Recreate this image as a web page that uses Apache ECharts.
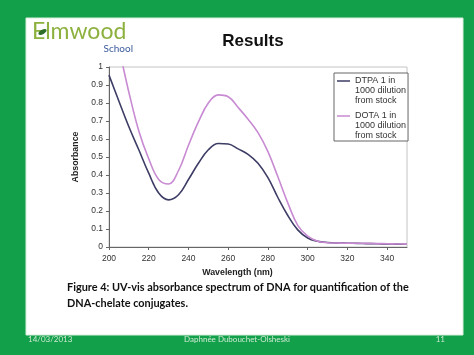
<!DOCTYPE html>
<html>
<head>
<meta charset="utf-8">
<script src="https://cdn.jsdelivr.net/npm/echarts@6/dist/echarts.min.js"></script>
<style>
html,body{margin:0;padding:0;background:#fff;}
#chart{width:474px;height:355px;}
</style>
</head>
<body>
<div id="chart"></div>
<script>
// ---- data ----
const wavelengths = [200,205,210,215,220,225,230,235,240,245,250,255,260,265,270,275,280,285,290,295,300,305,310,315,320,325,330,335,340,345,350];
const dtpaValues = [0.955,0.81,0.668,0.54,0.41,0.30,0.262,0.29,0.375,0.465,0.54,0.575,0.572,0.545,0.515,0.465,0.385,0.275,0.175,0.095,0.05,0.032,0.025,0.022,0.021,0.02,0.019,0.018,0.017,0.016,0.015];
const dotaValues = [1.3,1.1,0.86,0.645,0.49,0.375,0.35,0.425,0.565,0.695,0.80,0.845,0.835,0.775,0.71,0.635,0.53,0.39,0.245,0.12,0.06,0.032,0.024,0.022,0.021,0.021,0.02,0.019,0.018,0.017,0.016];
const seriesNames = ["DTPA 1 in\n1000 dilution\nfrom stock", "DOTA 1 in\n1000 dilution\nfrom stock"];
const xTicks = {min: 200, max: 350, step: 20};
const yTicks = {min: 0, max: 1, step: 0.1};
const slideTitle = "Results";
const captionText = "Figure 4: UV-vis absorbance spectrum of DNA for quantification of the\nDNA-chelate conjugates.";
const footerDate = "14/03/2013";
const footerAuthor = "Daphnée Dubouchet-Olsheski";
const footerPage = "11";
const xAxisName = "Wavelength (nm)";
const yAxisName = "Absorbance";

const pair = (vals) => wavelengths.map((w, i) => [w, vals[i]]);
const GREEN = '#12a04a';
const iconPath = 'path://M12.9,0 H13 V0.1 H12.9 Z M0,4.2 H13 V5.8 H0 Z M12.9,29.9 H13 V30 H12.9 Z';

const chart = echarts.init(document.getElementById('chart'), null, {renderer: 'canvas'});
chart.setOption({
  animation: false,
  backgroundColor: GREEN,
  textStyle: {fontFamily: 'Liberation Sans'},
  grid: {left: 109, top: 67, right: 67, bottom: 108, show: true, borderColor: '#c4c4c4', borderWidth: 1, backgroundColor: '#fff'},
  xAxis: {
    type: 'value', min: xTicks.min, max: xTicks.max, interval: xTicks.step,
    name: xAxisName, nameLocation: 'middle', nameGap: 10,
    nameTextStyle: {fontWeight: 'bold', fontSize: 8.8, color: '#222', padding: [0, 41, 0, 0]},
    axisLine: {lineStyle: {color: '#666', width: 1}},
    axisTick: {length: 3, lineStyle: {color: '#666'}},
    axisLabel: {fontSize: 8.5, color: '#333', margin: 7, showMaxLabel: false},
    splitLine: {show: false}
  },
  yAxis: {
    type: 'value', min: yTicks.min, max: yTicks.max, interval: yTicks.step,
    name: yAxisName, nameLocation: 'middle', nameGap: 26,
    nameTextStyle: {fontWeight: 'bold', fontSize: 8.8, color: '#222'},
    axisLine: {show: true, lineStyle: {color: '#666', width: 1}},
    axisTick: {show: true, length: 3, lineStyle: {color: '#666'}},
    axisLabel: {fontSize: 8.5, color: '#333', margin: 6},
    splitLine: {show: false}
  },
  legend: {
    orient: 'vertical', left: 334, top: 73,
    padding: [3, 2, 0, 3], borderColor: '#666', borderWidth: 1, backgroundColor: '#fff',
    itemWidth: 13, itemHeight: 30, itemGap: 5,
    textStyle: {fontSize: 9, lineHeight: 10, color: '#333'},
    data: seriesNames.map(n => ({name: n, icon: iconPath}))
  },
  series: [
    {name: seriesNames[0], type: 'line', data: pair(dtpaValues), smooth: 0.4, showSymbol: false, symbol: 'none', clip: true,
     lineStyle: {color: '#3e3d66', width: 1.6}, itemStyle: {color: '#3e3d66'}},
    {name: seriesNames[1], type: 'line', data: pair(dotaValues), smooth: 0.4, showSymbol: false, symbol: 'none', clip: true,
     lineStyle: {color: '#c88ad2', width: 1.6}, itemStyle: {color: '#c88ad2'}}
  ],
  graphic: [
    {type: 'rect', z: -10, shape: {x: 26, y: 18, width: 437, height: 317}, style: {fill: '#fff', stroke: '#d8eedc', lineWidth: 1}},
    {type: 'text', z: 100, style: {text: 'Elmwood', x: 32, y: 31.5, fontFamily: 'Lato', fontSize: 23, fill: '#8db13f', verticalAlign: 'middle'}},
    {type: 'ellipse', z: 101, rotation: 0.5, x: 42.5, y: 32, shape: {cx: 0, cy: 0, rx: 4.5, ry: 2.2}, style: {fill: '#2f6d2a'}},
    {type: 'text', z: 100, style: {text: 'School', x: 133, y: 48.5, fontFamily: 'Lato', fontSize: 10, fill: '#3b5b9c', align: 'right', verticalAlign: 'middle'}},
    {type: 'text', z: 100, style: {text: slideTitle, x: 253, y: 41, fontFamily: 'Liberation Sans', fontWeight: 'bold', fontSize: 17, fill: '#111', align: 'center', verticalAlign: 'middle'}},
    {type: 'text', z: 100, style: {text: captionText, x: 67, y: 280, fontFamily: 'Lato', fontWeight: 'bold', fontSize: 10.9, lineHeight: 15.4, fill: '#111', verticalAlign: 'top'}},
    {type: 'text', z: 100, style: {text: footerDate, x: 28, y: 339, fontFamily: 'Lato', fontSize: 8, fill: '#cfe9d3', verticalAlign: 'middle'}},
    {type: 'text', z: 100, style: {text: footerAuthor, x: 237, y: 339, fontFamily: 'Lato', fontSize: 8, fill: '#cfe9d3', align: 'center', verticalAlign: 'middle'}},
    {type: 'text', z: 100, style: {text: footerPage, x: 445, y: 339, fontFamily: 'Lato', fontSize: 8, fill: '#cfe9d3', align: 'right', verticalAlign: 'middle'}}
  ]
});
</script>
</body>
</html>
